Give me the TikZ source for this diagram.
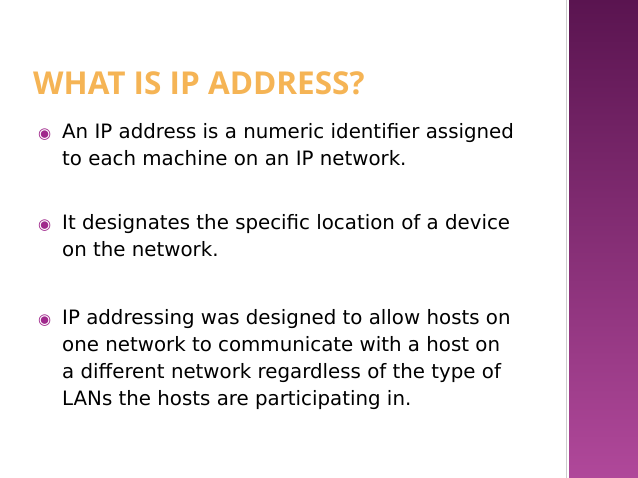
\documentclass[tikz,border=0pt]{standalone}
\usepackage{fontspec}
\setmainfont{DejaVu Sans}
\newfontfamily\symf{DejaVu Sans}
\newfontfamily\ttlf{Open Sans}
\definecolor{bulc}{HTML}{A0288C}
\definecolor{ttl}{HTML}{F5B455}
\definecolor{stripA}{HTML}{5A1450}
\definecolor{stripB}{HTML}{B0489A}
\tikzset{body/.style={anchor=base west,inner sep=0pt,font=\fontsize{19.8}{27}\selectfont,text=black},
bul/.style={anchor=base west,inner sep=0pt,text=bulc,font=\symf\fontsize{15}{15}\selectfont}}
\begin{document}
\begin{tikzpicture}[x=1pt,y=-1pt]
\useasboundingbox (0,0) rectangle (638,478);
\fill[white] (0,0) rectangle (638,478);
\shade[top color=stripA,bottom color=stripB] (569,0) rectangle (638,478);
\draw[gray!40] (566,0) -- (566,478);
\node[anchor=base west,inner sep=0pt,text=ttl,font=\ttlf\bfseries\fontsize{31.5}{31.5}\selectfont] (title) at (33,95) {WHAT IS IP ADDRESS?};
\node[bul] (b1) at (38,139) {◉};
\node[body] (t1a) at (62,139) {An IP address is a numeric identifier assigned};
\node[body] (t1b) at (62,166) {to each machine on an IP network.};
\node[bul] (b2) at (38,230) {◉};
\node[body] (t2a) at (62,230) {It designates the specific location of a device};
\node[body] (t2b) at (62,257) {on the network.};
\node[bul] (b3) at (38,325) {◉};
\node[body] (t3a) at (62,325) {IP addressing was designed to allow hosts on};
\node[body] (t3b) at (62,352) {one network to communicate with a host on};
\node[body] (t3c) at (62,379) {a different network regardless of the type of};
\node[body] (t3d) at (62,406) {LANs the hosts are participating in.};
\end{tikzpicture}
\end{document}
